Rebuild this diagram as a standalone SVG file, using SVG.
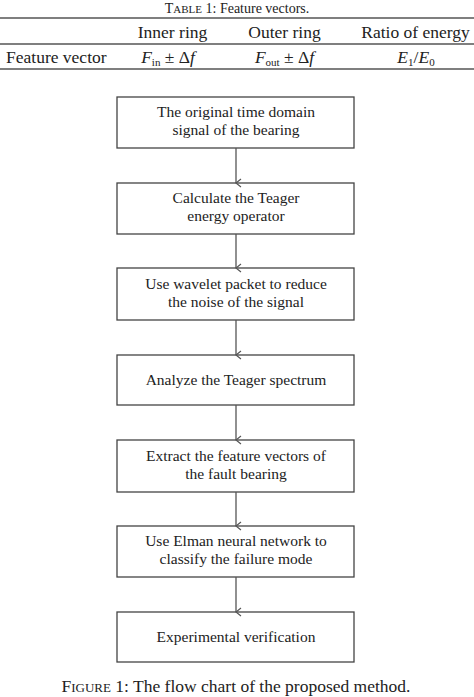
<svg xmlns="http://www.w3.org/2000/svg" width="474" height="697" viewBox="0 0 474 697">
<style>
text{font-family:"Liberation Serif","DejaVu Serif",serif;fill:#222}
.t{font-size:17.5px}
.b{font-size:15.5px;text-anchor:middle}
.m{text-anchor:middle}
.box{fill:#fff;stroke:#444;stroke-width:1.3}
.rule{stroke:#555;stroke-width:1.4}
.c line{stroke:#555;stroke-width:1.3}
.sub{font-size:11px}
</style>
<defs>
<marker id="ah" markerWidth="10" markerHeight="10" refX="5" refY="8" orient="auto" markerUnits="userSpaceOnUse" viewBox="0 0 10 10">
<path d="M1,3 L5,8 L9,3" fill="none" stroke="#555" stroke-width="1.2"/>
</marker>
</defs>
<rect width="474" height="697" fill="#fff"/>
<g id="table">
<text class="m" font-size="14" x="237" y="13"><tspan>T</tspan><tspan font-size="11">ABLE</tspan> 1: Feature vectors.</text>
<line class="rule" x1="0" y1="18" x2="474" y2="18"/>
<line class="rule" x1="0" y1="44" x2="474" y2="44"/>
<line class="rule" x1="0" y1="69" x2="474" y2="69"/>
<text class="t m" x="172.5" y="38">Inner ring</text>
<text class="t m" x="284.5" y="38">Outer ring</text>
<text class="t m" x="415.5" y="38">Ratio of energy</text>
<text class="t" x="6" y="63">Feature vector</text>
<text class="t m" x="168" y="63"><tspan font-style="italic">F</tspan><tspan class="sub" dy="3">in</tspan><tspan dy="-3"> ± Δ</tspan><tspan font-style="italic">f</tspan></text>
<text class="t m" x="284.5" y="63"><tspan font-style="italic">F</tspan><tspan class="sub" dy="3">out</tspan><tspan dy="-3"> ± Δ</tspan><tspan font-style="italic">f</tspan></text>
<text class="t m" x="416" y="63"><tspan font-style="italic">E</tspan><tspan class="sub" dy="3">1</tspan><tspan dy="-3">/</tspan><tspan font-style="italic">E</tspan><tspan class="sub" dy="3">0</tspan></text>
</g>
<g id="n1"><rect class="box" x="117" y="97" width="237" height="51"/>
<text class="b" x="236" y="117">The original time domain</text><text class="b" x="236" y="135">signal of the bearing</text></g>
<g id="n2"><rect class="box" x="117" y="183" width="237" height="51"/>
<text class="b" x="236" y="203">Calculate the Teager</text><text class="b" x="236" y="221">energy operator</text></g>
<g id="n3"><rect class="box" x="117" y="268" width="237" height="52"/>
<text class="b" x="236" y="289">Use wavelet packet to reduce</text><text class="b" x="236" y="307">the noise of the signal</text></g>
<g id="n4"><rect class="box" x="117" y="355" width="237" height="50"/>
<text class="b" x="236" y="385">Analyze the Teager spectrum</text></g>
<g id="n5"><rect class="box" x="117" y="440" width="237" height="52"/>
<text class="b" x="236" y="461">Extract the feature vectors of</text><text class="b" x="236" y="479">the fault bearing</text></g>
<g id="n6"><rect class="box" x="117" y="526" width="237" height="51"/>
<text class="b" x="236" y="546">Use Elman neural network to</text><text class="b" x="236" y="564">classify the failure mode</text></g>
<g id="n7"><rect class="box" x="117" y="612" width="237" height="50"/>
<text class="b" x="236" y="642">Experimental verification</text></g>
<g class="c" id="connectors">
<line x1="236" y1="148" x2="236" y2="183" marker-end="url(#ah)"/>
<line x1="236" y1="234" x2="236" y2="268" marker-end="url(#ah)"/>
<line x1="236" y1="320" x2="236" y2="355" marker-end="url(#ah)"/>
<line x1="236" y1="405" x2="236" y2="440" marker-end="url(#ah)"/>
<line x1="236" y1="492" x2="236" y2="526" marker-end="url(#ah)"/>
<line x1="236" y1="577" x2="236" y2="612" marker-end="url(#ah)"/>
</g>
<g id="caption">
<text class="t m" x="236" y="692"><tspan>F</tspan><tspan font-size="13">IGURE</tspan> 1: The flow chart of the proposed method.</text>
</g>
</svg>
